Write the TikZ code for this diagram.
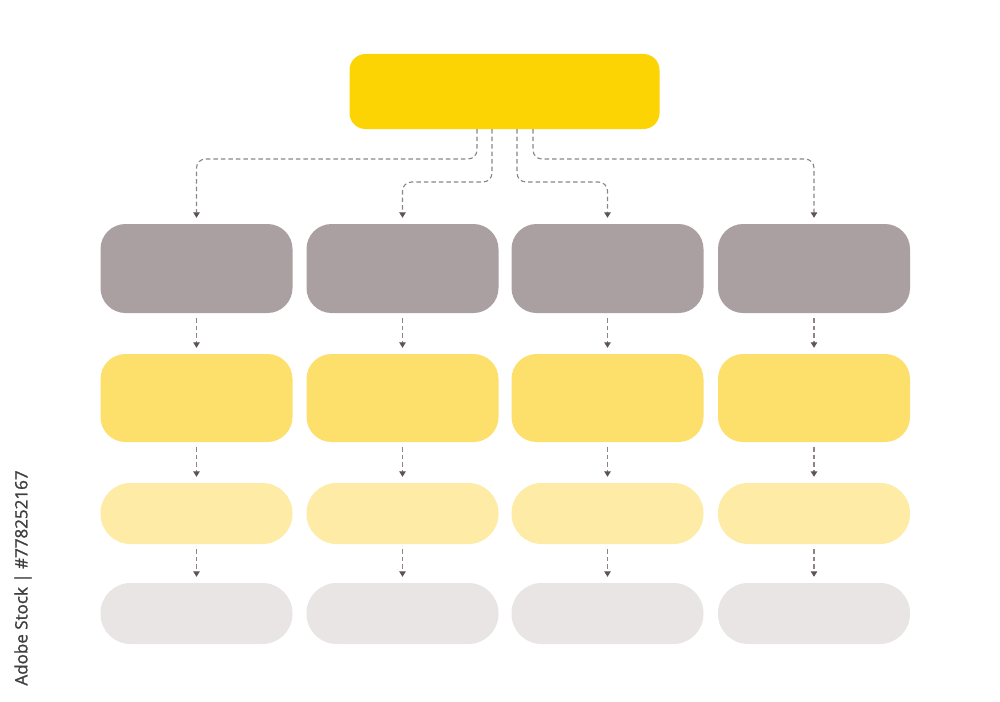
\documentclass[tikz,border=0pt]{standalone}
\usepackage{fontspec}
\setmainfont{Open Sans}
\newfontfamily\markfont[FakeBold=1.3]{Open Sans}
\usetikzlibrary{arrows.meta,calc}
\definecolor{topyellow}{HTML}{FCD404}
\definecolor{boxgrey}{HTML}{AAA0A1}
\definecolor{midyellow}{HTML}{FDDF6B}
\definecolor{paleyellow}{HTML}{FDEBA6}
\definecolor{palegrey}{HTML}{E9E5E4}
\definecolor{linegrey}{HTML}{8C8486}
\definecolor{tipgrey}{HTML}{5E5456}
\definecolor{marktext}{HTML}{3F3F3F}
\tikzset{
  box/.style={draw=none, inner sep=0pt, minimum width=192pt},
  topbox/.style={box, fill=topyellow, minimum width=310pt, minimum height=75pt, rounded corners=16pt},
  greybox/.style={box, fill=boxgrey, minimum height=89pt, rounded corners=25pt},
  yellowbox/.style={box, fill=midyellow, minimum height=88pt, rounded corners=25pt},
  palebox/.style={box, fill=paleyellow, minimum height=61pt, rounded corners=30pt},
  lightbox/.style={box, fill=palegrey, minimum height=61pt, rounded corners=30pt},
  conn/.style={draw=linegrey, line width=1.1pt, dash pattern=on 4.5pt off 3pt,
    rounded corners=9pt, shorten >=6pt,
    -{Triangle[width=6.5pt,length=5.5pt,color=tipgrey]}},
  vconn/.style={conn, shorten <=5pt}
}
\begin{document}
\begin{tikzpicture}[x=1pt,y=-1pt]
\useasboundingbox (0,0) rectangle (1000,701);
\node[topbox] (top) at (504.5,91.5) {};
\foreach \i/\x in {1/196.5,2/402.5,3/607.5,4/814}{
  \node[greybox] (g\i) at (\x,268.5) {};
  \node[yellowbox] (y\i) at (\x,398) {};
  \node[palebox] (p\i) at (\x,513.5) {};
  \node[lightbox] (l\i) at (\x,613.5) {};
  \draw[vconn] (g\i.south) -- (y\i.north);
  \draw[vconn] (y\i.south) -- (p\i.north);
  \draw[vconn] (p\i.south) -- (l\i.north);
}
\coordinate (h1) at (0,159);
\coordinate (h2) at (0,182);
\draw[conn] ([xshift=-27.5pt]top.south) |- (h1 -| g1.north) -- (g1.north);
\draw[conn] ([xshift=-12.5pt]top.south) |- (h2 -| g2.north) -- (g2.north);
\draw[conn] ([xshift=12.5pt]top.south) |- (h2 -| g3.north) -- (g3.north);
\draw[conn] ([xshift=28.5pt]top.south) |- (h1 -| g4.north) -- (g4.north);
\node[rotate=90, text=marktext, font=\markfont\fontsize{17}{20}\selectfont, inner sep=0pt] (mark) at (23,578) {Adobe Stock | \#778252167};
\end{tikzpicture}
\end{document}
